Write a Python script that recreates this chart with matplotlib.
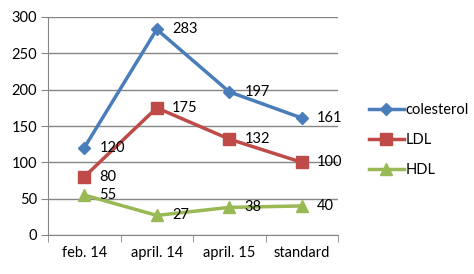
import matplotlib
matplotlib.use("Agg")
import matplotlib.pyplot as plt
import numpy as np

categories = ["feb. 14", "april. 14", "april. 15", "standard"]
colesterol = [120, 283, 197, 161]
ldl = [80, 175, 132, 100]
hdl = [55, 27, 38, 40]
yticks = [0, 50, 100, 150, 200, 250, 300]

plt.rcParams['font.family'] = ['Lato', 'DejaVu Sans']

fig = plt.figure(figsize=(4.74, 2.74), dpi=100)
ax = fig.add_axes([48/474, 1-235/274, 290/474, 218/274])

x = np.arange(len(categories))
series = [
    ("colesterol", colesterol, "#4A7EBB", "D", 6),
    ("LDL", ldl, "#BE4B48", "s", 8),
    ("HDL", hdl, "#98B954", "^", 8),
]
for name, vals, col, m, ms in series:
    ax.plot(x, vals, color=col, lw=2.5, marker=m, markersize=ms, label=name, zorder=3)
    for xi, v in zip(x, vals):
        ax.annotate(str(v), (xi, v), xytext=(11, 0), textcoords="offset points",
                    va="center", ha="left", fontsize=10.5, color="black", zorder=4)

ax.set_xlim(-0.5, len(categories) - 0.5)
ax.set_ylim(0, 300)
ax.set_yticks(yticks)
ax.set_xticks(x)
ax.set_xticklabels(categories)
ax.set_xticks(np.arange(len(categories) + 1) - 0.5, minor=True)
ax.tick_params(axis="x", which="major", length=0, labelsize=10.5, pad=8)
ax.tick_params(axis="x", which="minor", length=5, color="#868686", direction="out")
ax.tick_params(axis="y", length=5, color="#868686", labelsize=10.5, pad=3)
ax.yaxis.grid(True, color="#868686", lw=1)
ax.set_axisbelow(True)
for s in ["top", "right"]:
    ax.spines[s].set_visible(False)
for s in ["left", "bottom"]:
    ax.spines[s].set_color("#868686")

ax.legend(loc="center left", bbox_to_anchor=(1.06, 0.435), frameon=False,
          fontsize=10.5, handlelength=2.4, labelspacing=1.1, handletextpad=0.15)

fig.savefig("out.png", dpi=100)
